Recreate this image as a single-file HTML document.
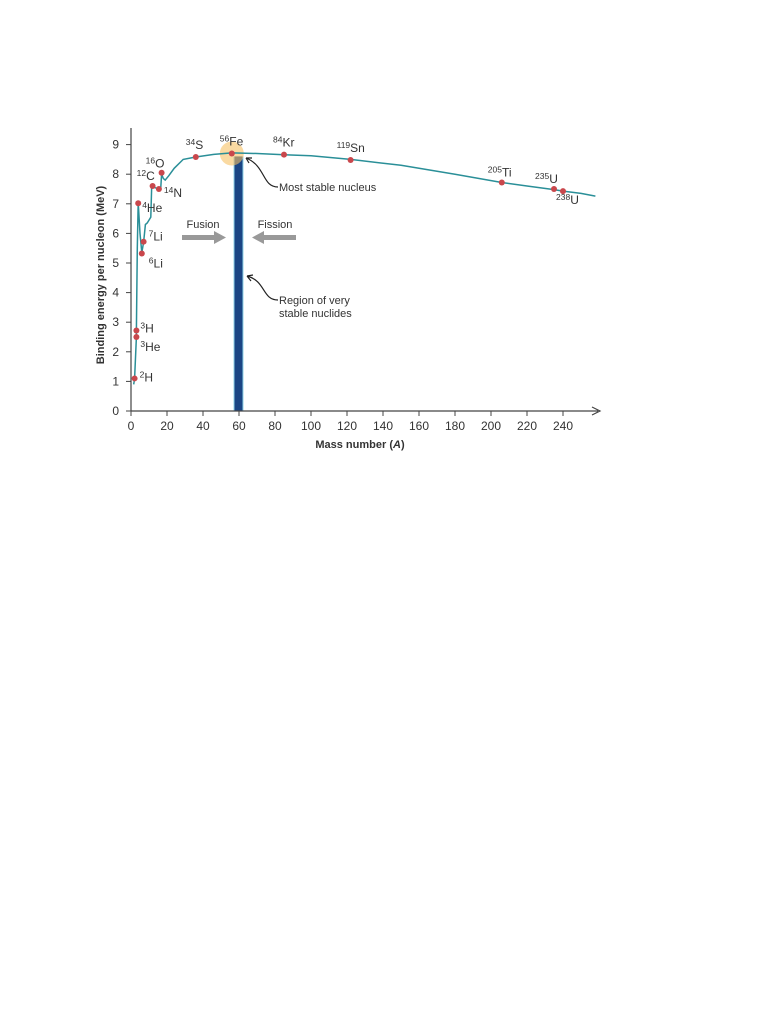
<!DOCTYPE html>
<html><head><meta charset="utf-8"><style>
body{margin:0;background:#fff;width:768px;height:1024px;overflow:hidden}
svg{position:absolute;left:0;top:0}
text{font-family:"Liberation Sans",sans-serif;fill:#333}
</style></head><body>
<svg id="chart" width="768" height="1024" viewBox="0 0 768 1024"></svg>
<script>
const curveA=[1.5,2,3,3,3.5,4,5,6,7,8,9,10,11,11.5,12,13,15.5,16.5,17,18,19,21,24,29,36,46,56,70,85,100,122,150,180,206,220,235,240,250,258];
const curveBE=[0.9,1.1,2.5,2.75,5.5,7.05,6.0,5.35,5.7,6.3,6.35,6.45,6.55,7.6,7.6,7.55,7.5,7.5,8.0,7.85,7.8,7.95,8.2,8.5,8.58,8.67,8.72,8.7,8.66,8.62,8.5,8.3,8.0,7.72,7.6,7.48,7.43,7.35,7.26];
const ptA=[2,3,3,4,6,7,12,15.5,17,36,56,85,122,206,235,240];
const ptBE=[1.1,2.72,2.5,7.02,5.32,5.72,7.6,7.5,8.05,8.58,8.7,8.66,8.48,7.72,7.5,7.43];
const ptSup=["2","3","3","4","6","7","12","14","16","34","56","84","119","205","235","238"];
const ptSym=["H","H","He","He","Li","Li","C","N","O","S","Fe","Kr","Sn","Ti","U","U"];
const ptDx=[5,4,4,4,7,5,-16,5,-16,-10,-12,-11,-14,-14,-19,-7];
const ptDy=[3,2,14,9,14,-1,-6,8,-5,-8,-8,-8,-8,-6,-6,13];
const xTicks=[0,20,40,60,80,100,120,140,160,180,200,220,240];
const yTicks=[0,1,2,3,4,5,6,7,8,9];
const X=a=>131+a*1.8, Y=v=>411-v*29.6;
const svg=document.getElementById('chart');
const NS='http://www.w3.org/2000/svg';
function mk(t,at,txt){const e=document.createElementNS(NS,t);for(const k in at)e.setAttribute(k,at[k]);if(txt!==undefined)e.textContent=txt;svg.appendChild(e);return e;}
let e=mk('rect',{x:X(57.5)-1,y:Y(8.6),width:10,height:Y(0)-Y(8.6),fill:'#8fd3e8'});


e=mk('rect',{x:X(57.5),y:Y(8.6),width:8,height:Y(0)-Y(8.6),fill:'#1b4584'});


e=mk('path',{d:`M131,411 H598 M592,407 L600,411 L592,415 M131,411 V128`,stroke:'#444','stroke-width':1.2,fill:'none'});


xTicks.forEach(t=>{e=mk('line',{x1:X(t),x2:X(t),y1:411,y2:416,stroke:'#444'});


e=mk('text',{x:X(t),y:430,'text-anchor':'middle','font-size':12},t);

});
yTicks.forEach(t=>{e=mk('line',{x1:126,x2:131,y1:Y(t),y2:Y(t),stroke:'#444'});


e=mk('text',{x:119,y:Y(t)+4,'text-anchor':'end','font-size':12},t);

});
e=mk('text',{x:360,y:448,'text-anchor':'middle','font-size':11,'font-weight':'bold'});
e.innerHTML='Mass number (<tspan font-style="italic">A</tspan>)';


e=mk('text',{x:0,y:0,transform:'translate(104,275) rotate(-90)','text-anchor':'middle','font-size':11,'font-weight':'bold'},'Binding energy per nucleon (MeV)');


e=mk('circle',{cx:X(56),cy:Y(8.7),r:12,fill:'#f6c164',opacity:0.6});


e=mk('path',{d:curveA.map((a,i)=>(i?'L':'M')+X(a).toFixed(1)+','+Y(curveBE[i]).toFixed(1)).join(' '),stroke:'#2a8f98','stroke-width':1.5,fill:'none'});


ptA.forEach((a,i)=>{e=mk('circle',{cx:X(a),cy:Y(ptBE[i]),r:3,fill:'#c9474c'});


e=mk('text',{x:X(a)+ptDx[i],y:Y(ptBE[i])+ptDy[i],'font-size':12});
e.innerHTML=`<tspan font-size="8.5" dy="-4">${ptSup[i]}</tspan><tspan dy="4">${ptSym[i]}</tspan>`;

});
e=mk('text',{x:203,y:228,'text-anchor':'middle','font-size':11},'Fusion');


e=mk('path',{d:'M182,235 H214 V231 L226,237.5 L214,244 V240 H182 Z',fill:'#999'});


e=mk('text',{x:275,y:228,'text-anchor':'middle','font-size':11},'Fission');


e=mk('path',{d:'M296,235 H264 V231 L252,237.5 L264,244 V240 H296 Z',fill:'#999'});


e=mk('path',{d:'M278,187 C262,187 266,166 246,158 M246,158 l6,0 M246,158 l3,5',stroke:'#222','stroke-width':1.2,fill:'none'});


e=mk('text',{x:279,y:191,'font-size':11},'Most stable nucleus');


e=mk('path',{d:'M278,300 C262,300 266,281 247,276 M247,276 l6,-1 M247,276 l4,5',stroke:'#222','stroke-width':1.2,fill:'none'});


e=mk('text',{x:279,y:304,'font-size':11},'Region of very');


e=mk('text',{x:279,y:317,'font-size':11},'stable nuclides');


</script>
</body></html>
